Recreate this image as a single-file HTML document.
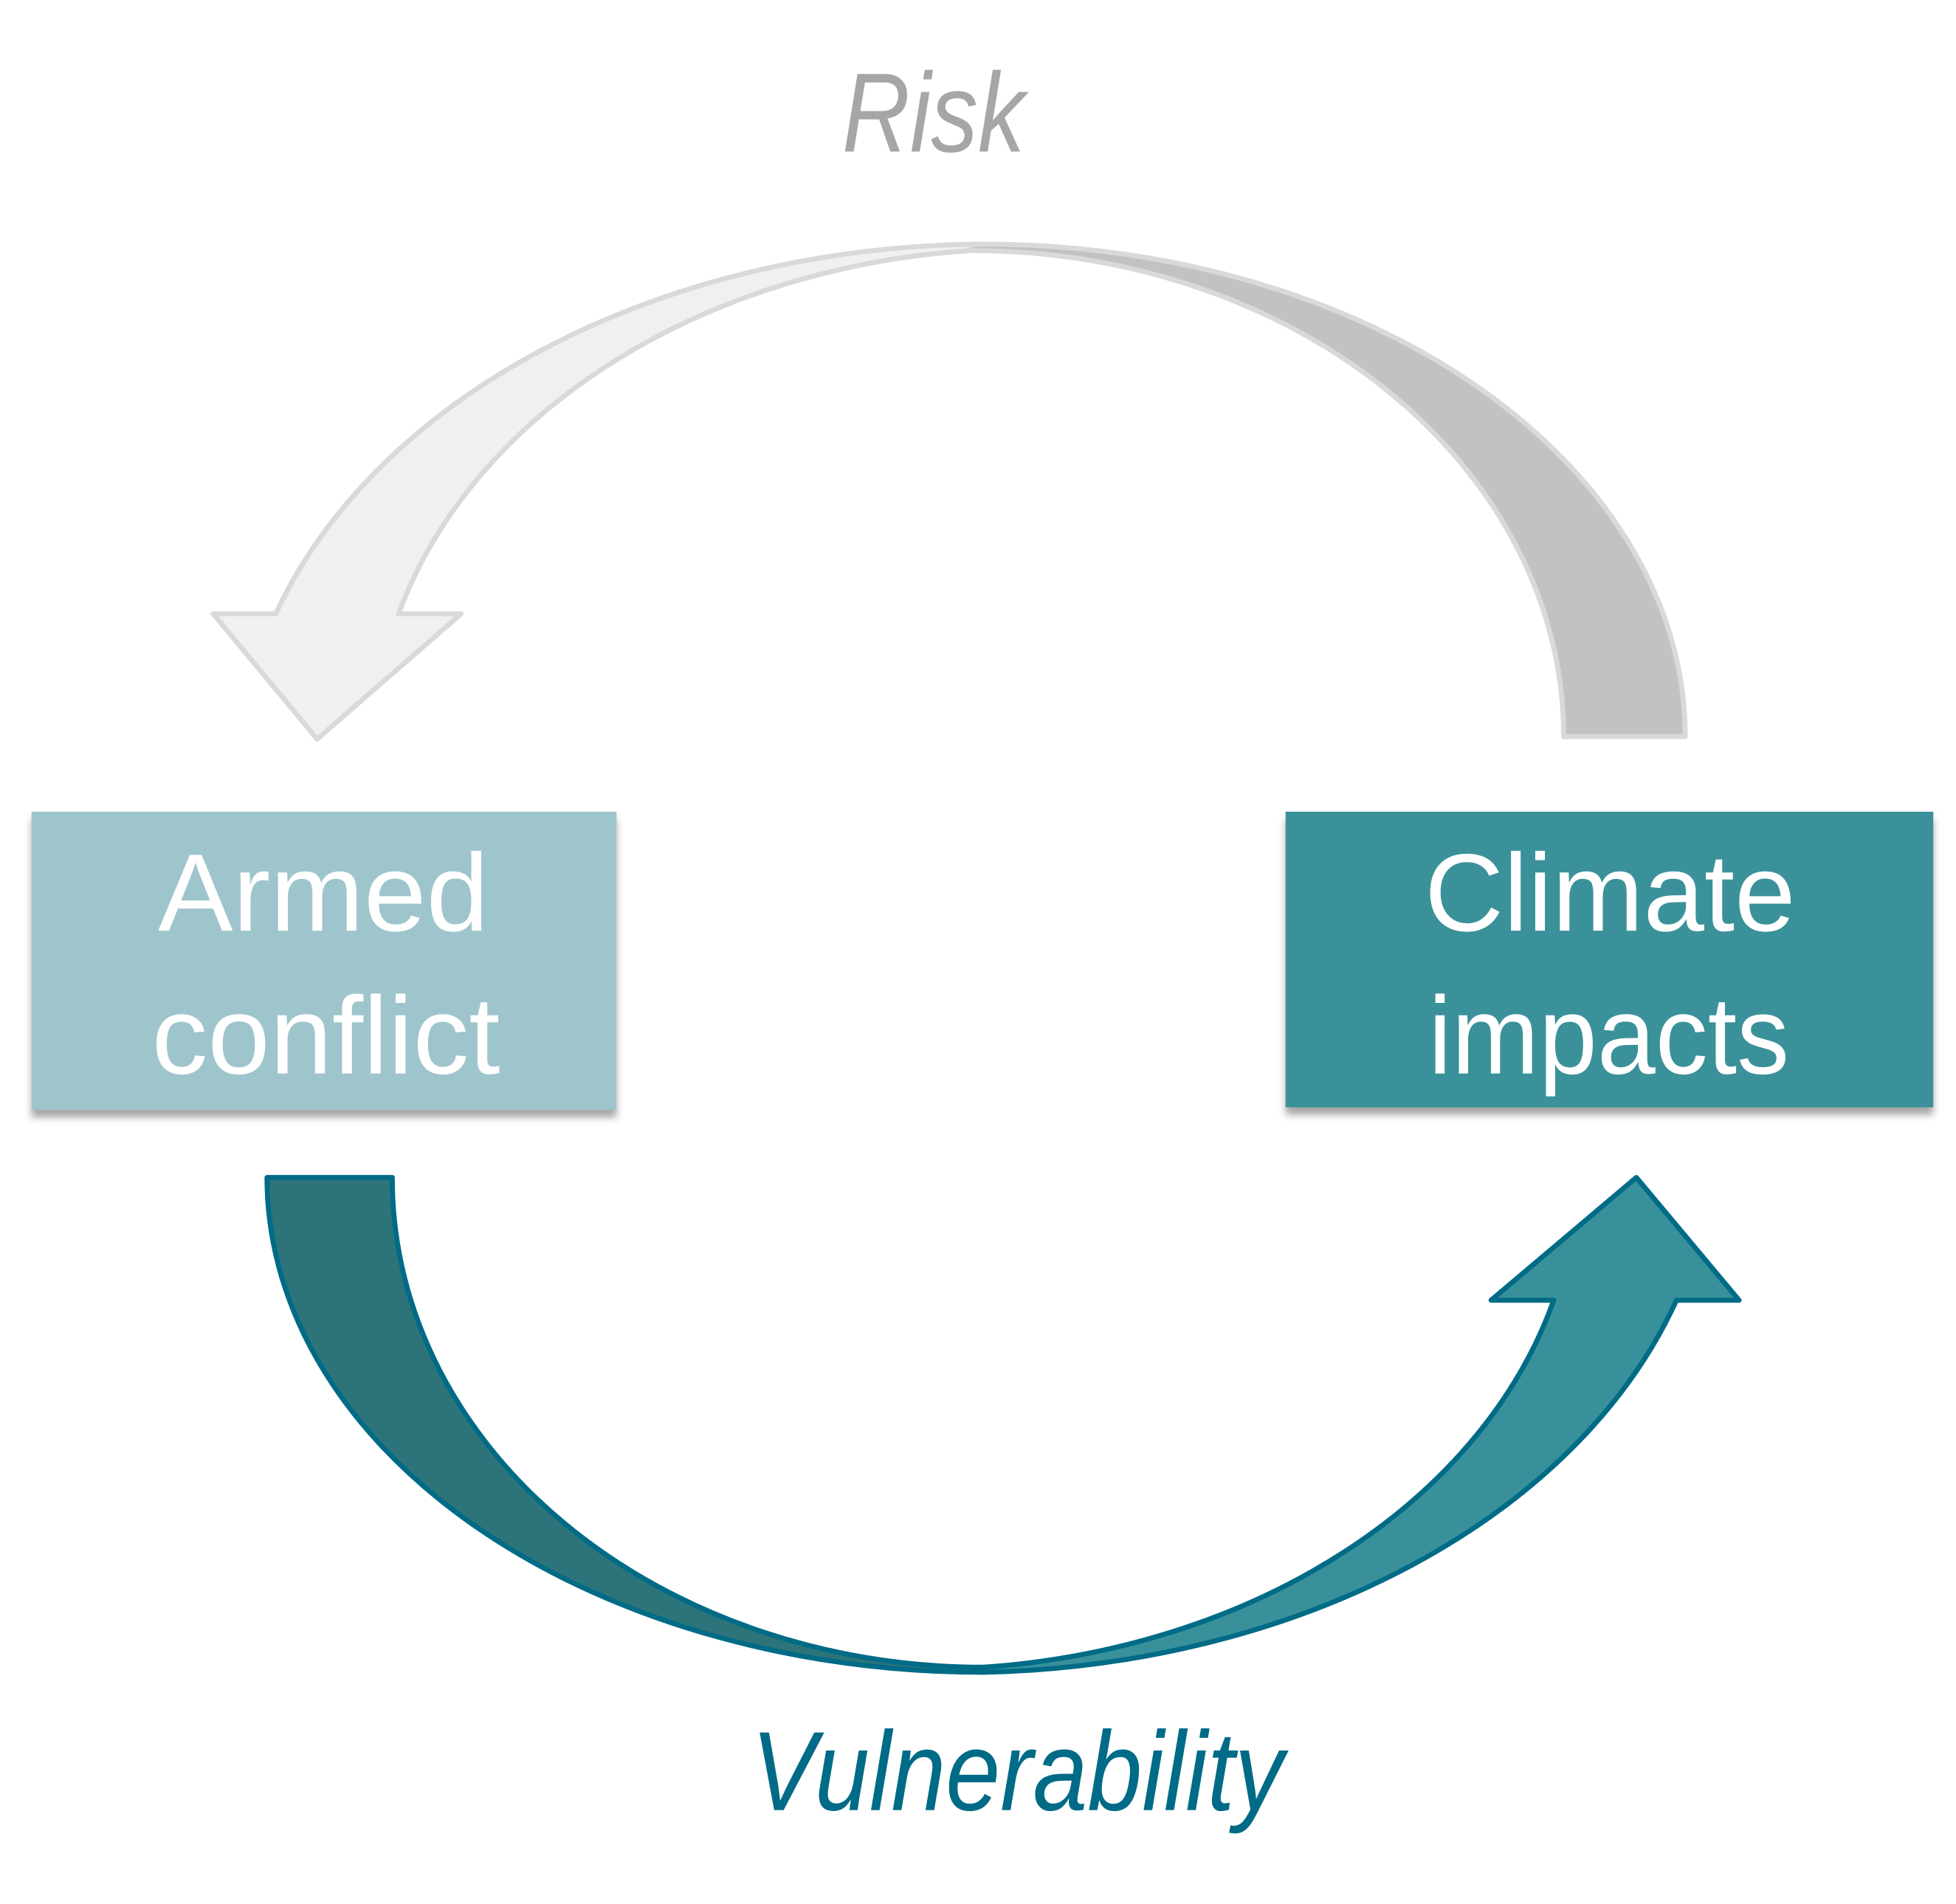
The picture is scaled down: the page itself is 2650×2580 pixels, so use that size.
<!DOCTYPE html>
<html><head><meta charset="utf-8"><style>
html,body{margin:0;padding:0;background:#fff;}
svg{display:block;}
text{font-family:"Liberation Sans",sans-serif;}
</style></head><body>
<svg width="2650" height="2580" viewBox="0 0 1561 1520" xmlns="http://www.w3.org/2000/svg">
<defs>
<filter id="sh" x="-10%" y="-10%" width="120%" height="130%">
<feDropShadow dx="0" dy="6" stdDeviation="3" flood-color="#000" flood-opacity="0.35"/>
</filter>
</defs>
<!-- Risk arrows -->
<path d="M 775 200 A 473 388 0 0 1 1248 588 L 1345 588 A 560 393 0 0 0 775 195 Z" fill="#c2c2c2" stroke="#d9d9d9" stroke-width="4" stroke-linejoin="round"/>
<path d="M 775 195 A 600 430 0 0 0 220 490 L 170 490 L 253 590 L 368 490 L 318 490 A 520 400 0 0 1 775 200 Z" fill="#f0f0f0" stroke="#d9d9d9" stroke-width="4" stroke-linejoin="round"/>
<!-- Vulnerability arrows -->
<path d="M 313 940 A 472 390 0 0 0 785 1331 L 785 1335 A 572 395 0 0 1 213 940 Z" fill="#2c7479" stroke="#006b86" stroke-width="4" stroke-linejoin="round"/>
<path d="M 785 1331 A 520 400 0 0 0 1240 1038 L 1190 1038 L 1306 940 L 1388 1038 L 1338 1038 A 600 430 0 0 1 785 1335 Z" fill="#38919a" stroke="#006b86" stroke-width="4" stroke-linejoin="round"/>
<!-- boxes -->
<rect x="25" y="648" width="467" height="238" fill="#9fc5cc" filter="url(#sh)"/>
<rect x="1026" y="648" width="517" height="236" fill="#3a9199" filter="url(#sh)"/>
<text x="258" y="743" font-size="88" fill="#fff" text-anchor="middle" textLength="264" lengthAdjust="spacingAndGlyphs">Armed</text>
<text x="260" y="857" font-size="88" fill="#fff" text-anchor="middle" textLength="278" lengthAdjust="spacingAndGlyphs">conflict</text>
<text x="1285" y="743" font-size="88" fill="#fff" text-anchor="middle" textLength="296" lengthAdjust="spacingAndGlyphs">Climate</text>
<text x="1284" y="857" font-size="88" fill="#fff" text-anchor="middle" textLength="288" lengthAdjust="spacingAndGlyphs">impacts</text>
<!-- labels -->
<text x="745" y="121" font-size="90" font-style="italic" fill="#a6a6a6" text-anchor="middle" textLength="146" lengthAdjust="spacingAndGlyphs">Risk</text>
<text x="812" y="1445" font-size="90" font-style="italic" fill="#006b86" text-anchor="middle" textLength="425" lengthAdjust="spacingAndGlyphs">Vulnerability</text>
</svg>
</body></html>
